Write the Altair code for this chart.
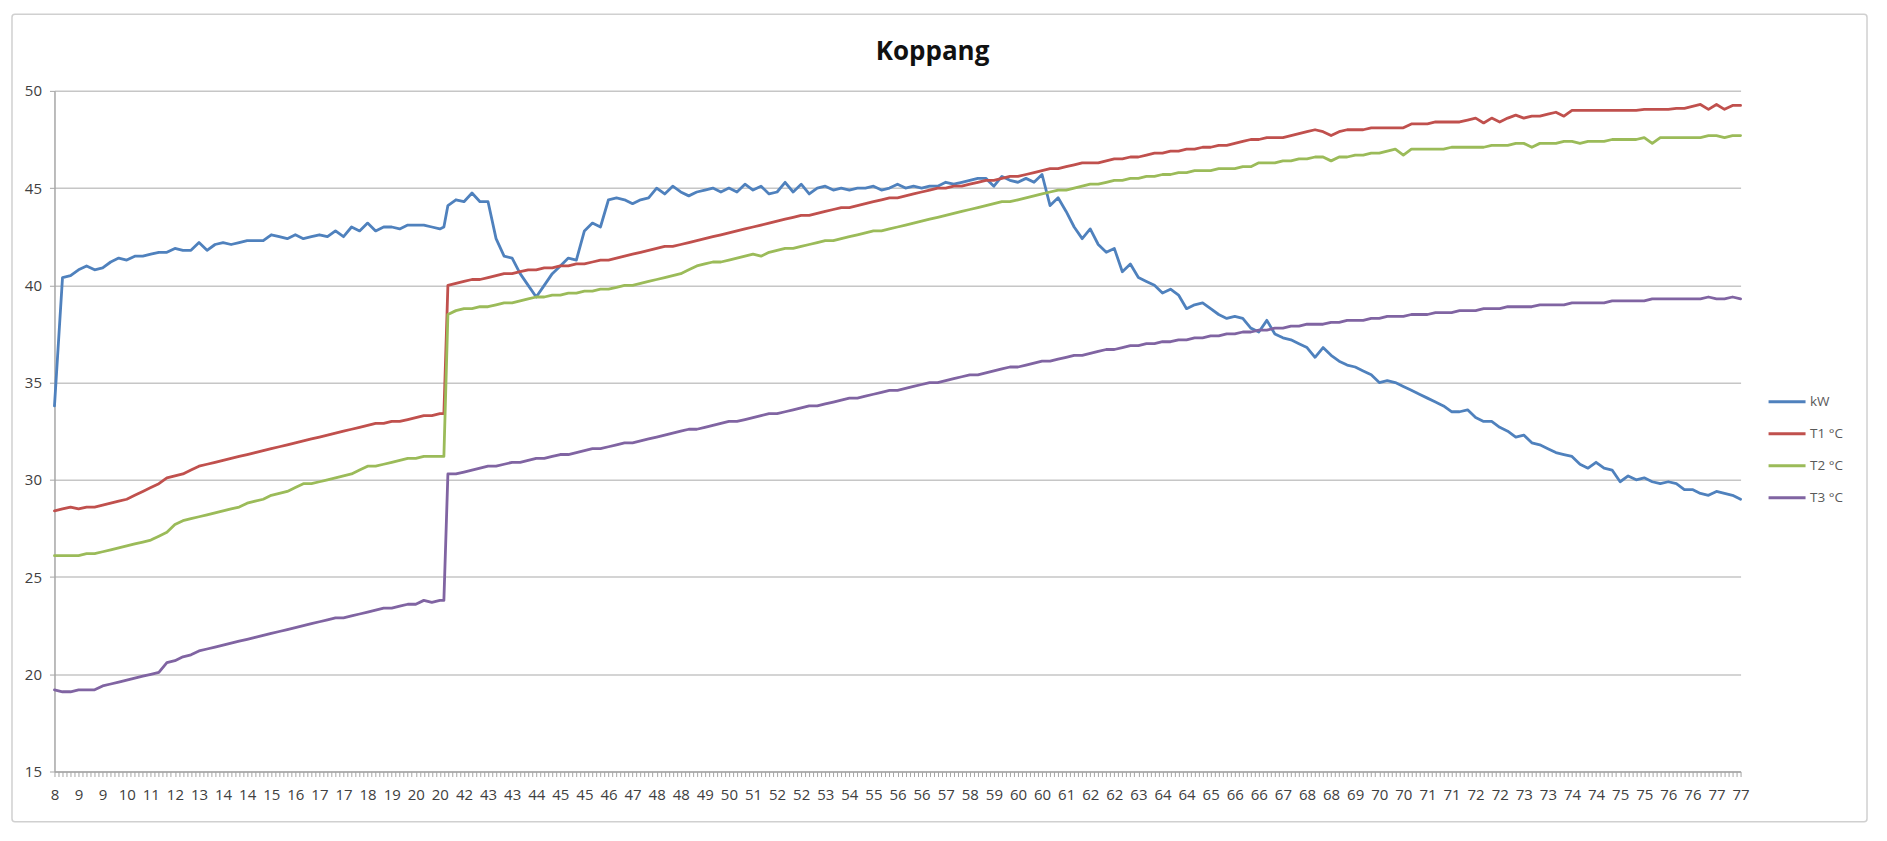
import json
import altair as alt
import pandas as pd

# ---------------- data ----------------
series_names = ["kW", "T1 °C", "T2 °C", "T3 °C"]
series_colors = ["#4F81BD", "#C0504D", "#9BBB59", "#8064A2"]

# category labels shown under the axis (every 6th sample)
x_labels = ["8", "9", "9", "10", "11", "12", "13", "14", "14", "15", "16", "17", "17",
            "18", "19", "20", "20", "42", "43", "43", "44", "45", "45", "46", "47",
            "48", "48", "49", "50", "51", "52", "52", "53", "54", "55", "56", "56",
            "57", "58", "59", "60", "60", "61", "62", "62", "63", "64", "64", "65",
            "66", "66", "67", "68", "68", "69", "70", "70", "71", "71", "72", "72",
            "73", "73", "74", "74", "75", "75", "76", "76", "77", "77"]
n_samples = 421
label_step = 6

# sample numbers of the values below (first run, then second run after the jump)
idx_a = list(range(0, 97, 2)) + [97]
idx_b = list(range(98, 421, 2))

kw_a = [33.8, 40.4, 40.5, 40.8, 41.0, 40.8, 40.9, 41.2, 41.4, 41.3,
        41.5, 41.5, 41.6, 41.7, 41.7, 41.9, 41.8, 41.8, 42.2, 41.8,
        42.1, 42.2, 42.1, 42.2, 42.3, 42.3, 42.3, 42.6, 42.5, 42.4,
        42.6, 42.4, 42.5, 42.6, 42.5, 42.8, 42.5, 43.0, 42.8, 43.2,
        42.8, 43.0, 43.0, 42.9, 43.1, 43.1, 43.1, 43.0, 42.9, 43.0]
kw_b = [44.1, 44.4, 44.3, 44.75, 44.3, 44.3, 42.4, 41.5, 41.4, 40.6,
        40.0, 39.4, 40.0, 40.6, 41.0, 41.4, 41.3, 42.8, 43.2, 43.0,
        44.4, 44.5, 44.4, 44.2, 44.4, 44.5, 45.0, 44.7, 45.1, 44.8,
        44.6, 44.8, 44.9, 45.0, 44.8, 45.0, 44.8, 45.2, 44.9, 45.1,
        44.7, 44.8, 45.3, 44.8, 45.2, 44.7, 45.0, 45.1, 44.9, 45.0,
        44.9, 45.0, 45.0, 45.1, 44.9, 45.0, 45.2, 45.0, 45.1, 45.0,
        45.1, 45.1, 45.3, 45.2, 45.3, 45.4, 45.5, 45.5, 45.1, 45.6,
        45.4, 45.3, 45.5, 45.3, 45.7, 44.1, 44.5, 43.8, 43.0, 42.4,
        42.9, 42.1, 41.7, 41.9, 40.7, 41.1, 40.4, 40.2, 40.0, 39.6,
        39.8, 39.5, 38.8, 39.0, 39.1, 38.8, 38.5, 38.3, 38.4, 38.3,
        37.8, 37.6, 38.2, 37.5, 37.3, 37.2, 37.0, 36.8, 36.3, 36.8,
        36.4, 36.1, 35.9, 35.8, 35.6, 35.4, 35.0, 35.1, 35.0, 34.8,
        34.6, 34.4, 34.2, 34.0, 33.8, 33.5, 33.5, 33.6, 33.2, 33.0,
        33.0, 32.7, 32.5, 32.2, 32.3, 31.9, 31.8, 31.6, 31.4, 31.3,
        31.2, 30.8, 30.6, 30.9, 30.6, 30.5, 29.9, 30.2, 30.0, 30.1,
        29.9, 29.8, 29.9, 29.8, 29.5, 29.5, 29.3, 29.2, 29.4, 29.3,
        29.2, 29.0]

t1_a = [28.4, 28.5, 28.6, 28.5, 28.6, 28.6, 28.7, 28.8, 28.9, 29.0,
        29.2, 29.4, 29.6, 29.8, 30.1, 30.2, 30.3, 30.5, 30.7, 30.8,
        30.9, 31.0, 31.1, 31.2, 31.3, 31.4, 31.5, 31.6, 31.7, 31.8,
        31.9, 32.0, 32.1, 32.2, 32.3, 32.4, 32.5, 32.6, 32.7, 32.8,
        32.9, 32.9, 33.0, 33.0, 33.1, 33.2, 33.3, 33.3, 33.4, 33.4]
t1_b = [40.0, 40.1, 40.2, 40.3, 40.3, 40.4, 40.5, 40.6, 40.6, 40.7,
        40.8, 40.8, 40.9, 40.9, 41.0, 41.0, 41.1, 41.1, 41.2, 41.3,
        41.3, 41.4, 41.5, 41.6, 41.7, 41.8, 41.9, 42.0, 42.0, 42.1,
        42.2, 42.3, 42.4, 42.5, 42.6, 42.7, 42.8, 42.9, 43.0, 43.1,
        43.2, 43.3, 43.4, 43.5, 43.6, 43.6, 43.7, 43.8, 43.9, 44.0,
        44.0, 44.1, 44.2, 44.3, 44.4, 44.5, 44.5, 44.6, 44.7, 44.8,
        44.9, 45.0, 45.0, 45.1, 45.1, 45.2, 45.3, 45.4, 45.4, 45.5,
        45.6, 45.6, 45.7, 45.8, 45.9, 46.0, 46.0, 46.1, 46.2, 46.3,
        46.3, 46.3, 46.4, 46.5, 46.5, 46.6, 46.6, 46.7, 46.8, 46.8,
        46.9, 46.9, 47.0, 47.0, 47.1, 47.1, 47.2, 47.2, 47.3, 47.4,
        47.5, 47.5, 47.6, 47.6, 47.6, 47.7, 47.8, 47.9, 48.0, 47.9,
        47.7, 47.9, 48.0, 48.0, 48.0, 48.1, 48.1, 48.1, 48.1, 48.1,
        48.3, 48.3, 48.3, 48.4, 48.4, 48.4, 48.4, 48.5, 48.6, 48.35,
        48.6, 48.4, 48.6, 48.75, 48.6, 48.7, 48.7, 48.8, 48.9, 48.7,
        49.0, 49.0, 49.0, 49.0, 49.0, 49.0, 49.0, 49.0, 49.0, 49.05,
        49.05, 49.05, 49.05, 49.1, 49.1, 49.2, 49.3, 49.05, 49.3, 49.05,
        49.25, 49.25]

t2_a = [26.1, 26.1, 26.1, 26.1, 26.2, 26.2, 26.3, 26.4, 26.5, 26.6,
        26.7, 26.8, 26.9, 27.1, 27.3, 27.7, 27.9, 28.0, 28.1, 28.2,
        28.3, 28.4, 28.5, 28.6, 28.8, 28.9, 29.0, 29.2, 29.3, 29.4,
        29.6, 29.8, 29.8, 29.9, 30.0, 30.1, 30.2, 30.3, 30.5, 30.7,
        30.7, 30.8, 30.9, 31.0, 31.1, 31.1, 31.2, 31.2, 31.2, 31.2]
t2_b = [38.5, 38.7, 38.8, 38.8, 38.9, 38.9, 39.0, 39.1, 39.1, 39.2,
        39.3, 39.4, 39.4, 39.5, 39.5, 39.6, 39.6, 39.7, 39.7, 39.8,
        39.8, 39.9, 40.0, 40.0, 40.1, 40.2, 40.3, 40.4, 40.5, 40.6,
        40.8, 41.0, 41.1, 41.2, 41.2, 41.3, 41.4, 41.5, 41.6, 41.5,
        41.7, 41.8, 41.9, 41.9, 42.0, 42.1, 42.2, 42.3, 42.3, 42.4,
        42.5, 42.6, 42.7, 42.8, 42.8, 42.9, 43.0, 43.1, 43.2, 43.3,
        43.4, 43.5, 43.6, 43.7, 43.8, 43.9, 44.0, 44.1, 44.2, 44.3,
        44.3, 44.4, 44.5, 44.6, 44.7, 44.8, 44.9, 44.9, 45.0, 45.1,
        45.2, 45.2, 45.3, 45.4, 45.4, 45.5, 45.5, 45.6, 45.6, 45.7,
        45.7, 45.8, 45.8, 45.9, 45.9, 45.9, 46.0, 46.0, 46.0, 46.1,
        46.1, 46.3, 46.3, 46.3, 46.4, 46.4, 46.5, 46.5, 46.6, 46.6,
        46.4, 46.6, 46.6, 46.7, 46.7, 46.8, 46.8, 46.9, 47.0, 46.7,
        47.0, 47.0, 47.0, 47.0, 47.0, 47.1, 47.1, 47.1, 47.1, 47.1,
        47.2, 47.2, 47.2, 47.3, 47.3, 47.1, 47.3, 47.3, 47.3, 47.4,
        47.4, 47.3, 47.4, 47.4, 47.4, 47.5, 47.5, 47.5, 47.5, 47.6,
        47.3, 47.6, 47.6, 47.6, 47.6, 47.6, 47.6, 47.7, 47.7, 47.6,
        47.7, 47.7]

t3_a = [19.2, 19.1, 19.1, 19.2, 19.2, 19.2, 19.4, 19.5, 19.6, 19.7,
        19.8, 19.9, 20.0, 20.1, 20.6, 20.7, 20.9, 21.0, 21.2, 21.3,
        21.4, 21.5, 21.6, 21.7, 21.8, 21.9, 22.0, 22.1, 22.2, 22.3,
        22.4, 22.5, 22.6, 22.7, 22.8, 22.9, 22.9, 23.0, 23.1, 23.2,
        23.3, 23.4, 23.4, 23.5, 23.6, 23.6, 23.8, 23.7, 23.8, 23.8]
t3_b = [30.3, 30.3, 30.4, 30.5, 30.6, 30.7, 30.7, 30.8, 30.9, 30.9,
        31.0, 31.1, 31.1, 31.2, 31.3, 31.3, 31.4, 31.5, 31.6, 31.6,
        31.7, 31.8, 31.9, 31.9, 32.0, 32.1, 32.2, 32.3, 32.4, 32.5,
        32.6, 32.6, 32.7, 32.8, 32.9, 33.0, 33.0, 33.1, 33.2, 33.3,
        33.4, 33.4, 33.5, 33.6, 33.7, 33.8, 33.8, 33.9, 34.0, 34.1,
        34.2, 34.2, 34.3, 34.4, 34.5, 34.6, 34.6, 34.7, 34.8, 34.9,
        35.0, 35.0, 35.1, 35.2, 35.3, 35.4, 35.4, 35.5, 35.6, 35.7,
        35.8, 35.8, 35.9, 36.0, 36.1, 36.1, 36.2, 36.3, 36.4, 36.4,
        36.5, 36.6, 36.7, 36.7, 36.8, 36.9, 36.9, 37.0, 37.0, 37.1,
        37.1, 37.2, 37.2, 37.3, 37.3, 37.4, 37.4, 37.5, 37.5, 37.6,
        37.6, 37.7, 37.7, 37.8, 37.8, 37.9, 37.9, 38.0, 38.0, 38.0,
        38.1, 38.1, 38.2, 38.2, 38.2, 38.3, 38.3, 38.4, 38.4, 38.4,
        38.5, 38.5, 38.5, 38.6, 38.6, 38.6, 38.7, 38.7, 38.7, 38.8,
        38.8, 38.8, 38.9, 38.9, 38.9, 38.9, 39.0, 39.0, 39.0, 39.0,
        39.1, 39.1, 39.1, 39.1, 39.1, 39.2, 39.2, 39.2, 39.2, 39.2,
        39.3, 39.3, 39.3, 39.3, 39.3, 39.3, 39.3, 39.4, 39.3, 39.3,
        39.4, 39.3]

series_values = {
    "kW": kw_a + kw_b,
    "T1 °C": t1_a + t1_b,
    "T2 °C": t2_a + t2_b,
    "T3 °C": t3_a + t3_b,
}
sample_idx = idx_a + idx_b
for k, v in series_values.items():
    assert len(v) == len(sample_idx), (k, len(v), len(sample_idx))

rows = []
for k in series_names:
    for i, val in zip(sample_idx, series_values[k]):
        rows.append({"idx": i, "value": val, "series": k})
df = pd.DataFrame(rows)

# ---------------- chart ----------------
FONT = "Open Sans"
W, H = 1687, 681

label_expr = ("datum.value % " + str(label_step) + " == 0 ? "
              + json.dumps(x_labels) + "[datum.value / " + str(label_step) + "] : ''")

lines = alt.Chart(df).mark_line(strokeWidth=2.8, strokeJoin="round", strokeCap="round").encode(
    x=alt.X("idx:Q",
            scale=alt.Scale(domain=[0, n_samples - 1], nice=False, zero=False),
            axis=alt.Axis(values=list(range(n_samples)), labelExpr=label_expr,
                          labelOverlap=False, labelFlush=False, grid=False,
                          domainColor="#A6A6A6", domainWidth=1.5,
                          tickColor="#A6A6A6", tickSize=5, tickWidth=1,
                          labelPadding=11, labelFont=FONT, labelFontSize=15,
                          labelColor="#404040", title=None)),
    y=alt.Y("value:Q",
            scale=alt.Scale(domain=[15, 50], nice=False, zero=False),
            axis=alt.Axis(values=[15, 20, 25, 30, 35, 40, 45, 50], grid=True,
                          gridColor="#C6C6C6", gridWidth=1.5,
                          domainColor="#A6A6A6", domainWidth=1.5,
                          tickColor="#A6A6A6", tickSize=5,
                          labelPadding=8, labelFont=FONT, labelFontSize=15,
                          labelColor="#404040", title=None)),
    color=alt.Color("series:N",
                    scale=alt.Scale(domain=series_names, range=series_colors),
                    legend=alt.Legend(orient="none", legendX=1713.5, legendY=303,
                                      title=None, symbolType="stroke", symbolSize=1369,
                                      symbolStrokeWidth=3, clipHeight=16, rowPadding=16,
                                      labelFont=FONT, labelFontSize=13.5,
                                      labelColor="#595959", labelOffset=3, padding=0)),
    order=alt.Order("idx:Q"),
)

frame = alt.Chart(pd.DataFrame({"a": [0]})).mark_rect(
    fill=None, stroke="#D0D0D0", strokeWidth=1.5, cornerRadius=3
).encode(x=alt.value(-42.5), x2=alt.value(1813.5), y=alt.value(-76.7), y2=alt.value(731.3))

title = alt.Chart(pd.DataFrame({"t": ["Koppang"]})).mark_text(
    font=FONT, fontWeight="bold", fontSize=26, color="#111111",
    align="center", baseline="alphabetic"
).encode(text="t:N", x=alt.value(878.5), y=alt.value(-31))

chart = alt.layer(frame, lines, title).properties(
    width=W, height=H,
    autosize=alt.AutoSizeParams(type="none"),
    padding={"left": 46.5, "top": 82.7, "right": 138.5, "bottom": 56},
    background="white",
).configure_view(strokeWidth=0)

chart.save("out.html", embed_options={"renderer": "svg", "actions": False})
